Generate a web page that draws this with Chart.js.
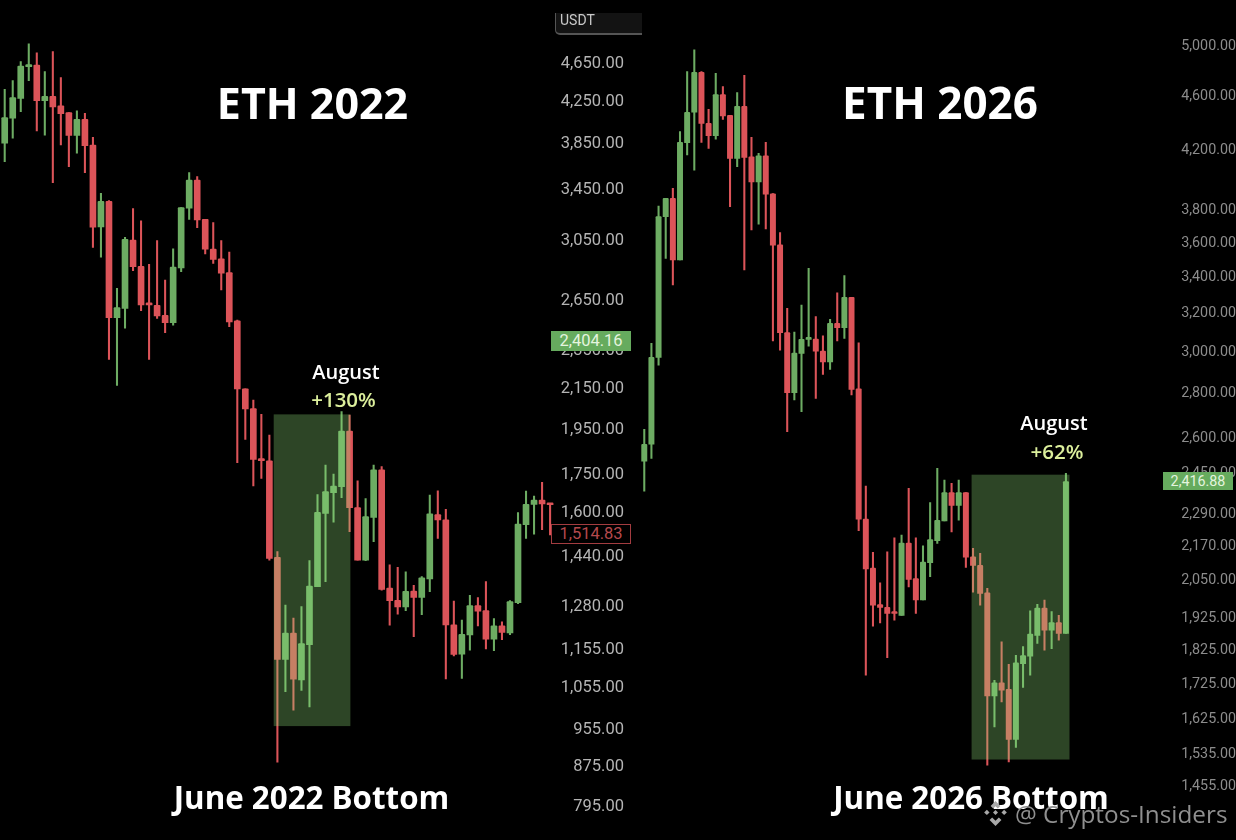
<!DOCTYPE html>
<html>
<head>
<meta charset="utf-8">
<title>ETH 2022 vs ETH 2026</title>
<script src="https://cdn.jsdelivr.net/npm/chart.js@4"></script>
<style>
  html, body { margin: 0; background: #000; }
  #stage { position: relative; width: 1236px; height: 840px; overflow: hidden; background: #000; font-family: 'Open Sans', sans-serif; }
  canvas { position: absolute; top: 0; }
  .note { position: absolute; transform: translate(-50%, -50%); white-space: nowrap; color: #fff; }
  .title { font-size: 43px; font-weight: 700; }
  .bottom { font-size: 31.3px; font-weight: 700; }
  .month { font-size: 20px; font-weight: 600; }
  .gain { font-size: 20.5px; font-weight: 600; color: #dcef9c; }
  .tag { position: absolute; box-sizing: border-box; text-align: center; font-family: Roboto, sans-serif; white-space: nowrap; }
  #usdt { position: absolute; left: 555px; top: 13px; width: 87px; height: 22px; box-sizing: border-box; background: #131313; border-left: 1px solid #555; border-bottom: 2px solid #555; border-bottom-left-radius: 5px; color: #c9c9c9; font: 14px Roboto, sans-serif; line-height: 14px; padding-left: 4px; }
  #mark { position: absolute; left: 1015px; top: 797px; color: #8f8f8f; font-size: 24.3px; white-space: nowrap; }
  #logo { position: absolute; left: 982px; top: 800px; }
</style>
</head>
<body>
<div id="stage">
  <canvas id="chart-2022" width="624" height="840" style="left:0"></canvas>
  <canvas id="chart-2026" width="596" height="840" style="left:640px"></canvas>

  <div id="usdt">USDT</div>
  <div class="tag" style="left:551px;top:331px;width:80px;height:20px;line-height:20px;font-size:16.5px;background:#66ab5e;color:#e4f4de">2,404.16</div>
  <div class="tag" style="left:551px;top:524px;width:80px;height:20px;line-height:18px;font-size:16.5px;background:#000;border:1px solid #a33c40;color:#b5494d">1,514.83</div>
  <div class="tag" style="left:1163px;top:472px;width:70px;height:18px;line-height:18px;font-size:14.3px;background:#66ab5e;color:#e4f4de">2,416.88</div>

  <div class="note title" style="left:312.5px;top:101.5px">ETH 2022</div>
  <div class="note title" style="left:940px;top:101.5px;font-size:44px">ETH 2026</div>
  <div class="note month" style="left:346px;top:371px">August</div>
  <div class="note gain" style="left:343.5px;top:399px">+130%</div>
  <div class="note month" style="left:1054px;top:422px">August</div>
  <div class="note gain" style="left:1057px;top:451px">+62%</div>
  <div class="note bottom" style="left:311.5px;top:797px">June 2022 Bottom</div>
  <div class="note bottom" style="left:971px;top:797px">June 2026 Bottom</div>

  <svg id="logo" width="27" height="27" viewBox="0 0 25 25" fill="#a8a8a8">
    <polygon points="12.5,1 17,5.5 14.6,7.9 12.5,5.8 10.4,7.9 8,5.5"/>
    <polygon points="4.5,9 7,11.5 4.5,14 2,11.5"/>
    <polygon points="20.5,9 23,11.5 20.5,14 18,11.5"/>
    <polygon points="12.5,9.2 14.8,11.5 12.5,13.8 10.2,11.5"/>
    <polygon points="12.5,24 7,18.5 9.4,16.1 12.5,19.2 15.6,16.1 18,18.5"/>
  </svg>
  <div id="mark">@ Cryptos-Insiders</div>
</div>

<script>
// ETH 2022 candles (USDT)
const open2022 = [3833, 4068, 4265, 4599, 4617, 4242, 4285, 4189, 4122, 3904, 4058, 3817, 3141, 3339, 2532, 2589, 3045, 2861, 2621, 2608, 2546, 2502, 2850, 3284, 3512, 3199, 2981, 2913, 2819, 2513, 2138, 2040, 1811, 1802, 1432, 1124, 1196, 1070, 1164, 1336, 1590, 1670, 1694, 1934, 1612, 1423, 1575, 1763, 1331, 1293, 1273, 1322, 1302, 1361, 1586, 1566, 1220, 1138, 1191, 1277, 1262, 1179, 1217, 1197, 1286, 1548, 1624, 1641, 1626];
const high2022 = [4358, 4448, 4653, 4854, 4753, 4545, 4766, 4480, 4122, 4139, 4116, 3888, 3403, 3344, 2715, 3065, 3281, 3187, 2874, 3041, 2769, 2983, 3289, 3574, 3540, 3199, 3174, 3041, 2960, 2517, 2138, 2082, 2012, 1915, 1452, 1279, 1240, 1274, 1421, 1663, 1784, 1746, 2025, 2009, 1718, 1647, 1784, 1777, 1407, 1399, 1384, 1340, 1368, 1661, 1678, 1605, 1291, 1234, 1309, 1302, 1352, 1238, 1229, 1292, 1593, 1677, 1657, 1712, 1626];
const low2022 = [3669, 3879, 4133, 4448, 3947, 3907, 3490, 3817, 3626, 3743, 3574, 2992, 2923, 2293, 2156, 2469, 2832, 2574, 2293, 2527, 2444, 2488, 2825, 3199, 3136, 2946, 2881, 2704, 2479, 1794, 1896, 1697, 1728, 1423, 880, 1041, 996, 1044, 1004, 1336, 1352, 1557, 1651, 1522, 1423, 1421, 1487, 1325, 1219, 1251, 1262, 1186, 1250, 1320, 1498, 1073, 1133, 1074, 1149, 1217, 1152, 1147, 1178, 1192, 1283, 1498, 1513, 1530, 1511];
const close2022 = [4074, 4272, 4606, 4617, 4242, 4285, 4179, 4113, 3904, 4058, 3811, 3139, 3339, 2532, 2593, 3050, 2859, 2610, 2610, 2542, 2502, 2856, 3289, 3512, 3194, 2979, 2908, 2814, 2506, 2138, 2038, 1808, 1802, 1429, 1124, 1196, 1072, 1167, 1338, 1594, 1675, 1697, 1934, 1612, 1423, 1578, 1763, 1327, 1292, 1273, 1321, 1302, 1364, 1588, 1566, 1220, 1137, 1193, 1277, 1260, 1179, 1217, 1198, 1289, 1550, 1625, 1641, 1626, 1623];
const ticks2022 = [4650, 4250, 3850, 3450, 3050, 2650, 2350, 2150, 1950, 1750, 1600, 1440, 1280, 1155, 1055, 955, 875, 795];

// ETH 2026 candles
const open2026 = [2494, 2565, 2965, 3749, 3865, 3488, 4242, 4462, 4769, 4380, 4291, 4595, 4440, 4131, 4507, 4143, 3973, 4150, 3895, 3577, 3090, 2795, 2984, 3055, 3057, 2996, 2943, 3138, 3115, 3277, 2813, 2264, 2086, 1963, 1954, 1938, 1928, 2175, 2050, 1978, 2105, 2184, 2257, 2366, 2316, 2366, 2126, 2096, 2002, 1686, 1723, 1704, 1568, 1779, 1801, 1865, 1952, 1881, 1905, 1871];
const high2026 = [2630, 3035, 3816, 3865, 3930, 4320, 4775, 4951, 4775, 4484, 4761, 4657, 4440, 4611, 4745, 4279, 4166, 4244, 3897, 3651, 3217, 3093, 3235, 3440, 3173, 3073, 3159, 3302, 3398, 3277, 3038, 2392, 2142, 2036, 2144, 2194, 2204, 2383, 2194, 2165, 2327, 2464, 2416, 2403, 2416, 2366, 2156, 2138, 2017, 1730, 1845, 1777, 1804, 1830, 1943, 1964, 1978, 1940, 1928, 2443];
const low2026 = [2372, 2505, 2927, 3497, 3345, 3488, 4155, 4052, 4244, 4201, 4267, 4410, 3812, 4075, 3430, 3667, 3703, 3673, 3047, 3001, 2619, 2762, 2708, 3021, 2769, 2882, 2906, 3047, 3060, 2785, 2221, 1745, 1894, 1904, 1797, 1913, 1928, 2022, 1934, 1978, 2057, 2174, 2257, 2216, 2260, 2089, 2004, 1961, 1502, 1601, 1669, 1510, 1547, 1710, 1745, 1840, 1819, 1824, 1850, 1871];
const close2026 = [2565, 2965, 3749, 3865, 3488, 4244, 4462, 4769, 4380, 4291, 4595, 4435, 4131, 4507, 4138, 3973, 4150, 3893, 3575, 3090, 2795, 2986, 3055, 3063, 2996, 2943, 3138, 3115, 3277, 2811, 2264, 2083, 1961, 1954, 1934, 1934, 2175, 2047, 1978, 2107, 2188, 2259, 2366, 2316, 2366, 2125, 2096, 2000, 1686, 1723, 1702, 1568, 1781, 1803, 1869, 1952, 1881, 1905, 1871, 2410];
const ticks2026 = [5000, 4600, 4200, 3800, 3600, 3400, 3200, 3000, 2800, 2600, 2450, 2290, 2170, 2050, 1925, 1825, 1725, 1625, 1535, 1455];

// Shaded rally windows: candle index from/to, price from/to
const window2022 = [33.54, 43.1, 959, 2012];
const window2026 = [45.8, 59.5, 1516, 2438];

const GREEN = '#6dac63';
const RED = '#dc5459';

// Draws the green box over the candles, so they get tinted like in the picture
const rallyBox = {
  id: 'rallyBox',
  afterDatasetsDraw(chart, args, opts) {
    const { x, y } = chart.scales;
    const [from, to, low, high] = opts.range;
    const left = x.getPixelForValue(from);
    const right = x.getPixelForValue(to);
    const top = y.getPixelForValue(high);
    const bottom = y.getPixelForValue(low);
    chart.ctx.save();
    chart.ctx.fillStyle = 'rgba(150, 230, 125, 0.3)';
    chart.ctx.fillRect(left, top, right - left, bottom - top);
    chart.ctx.restore();
  }
};

function formatPrice(value) {
  return value.toLocaleString('en-US', { minimumFractionDigits: 2, maximumFractionDigits: 2 });
}

function drawCandles(canvasId, cfg) {
  const colors = cfg.open.map((o, i) => (cfg.close[i] >= o ? GREEN : RED));
  return new Chart(document.getElementById(canvasId), {
    type: 'bar',
    data: {
      labels: cfg.open.map((_, i) => i),
      datasets: [
        {
          label: 'Wick',
          data: cfg.low.map((l, i) => [l, cfg.high[i]]),
          backgroundColor: colors,
          barThickness: 1.4,
          grouped: false
        },
        {
          label: 'Body',
          data: cfg.open.map((o, i) => [o, cfg.close[i]]),
          backgroundColor: colors,
          barThickness: cfg.bodyWidth,
          minBarLength: 2,
          borderRadius: 1,
          grouped: false
        }
      ]
    },
    options: {
      responsive: false,
      animation: false,
      layout: { padding: { left: cfg.padLeft } },
      plugins: {
        legend: { display: false },
        tooltip: { enabled: false },
        rallyBox: { range: cfg.box }
      },
      scales: {
        x: { display: false },
        y: {
          type: 'logarithmic',
          position: 'right',
          min: cfg.min,
          max: cfg.max,
          bounds: 'data',
          grid: { display: false, drawTicks: false },
          border: { display: false },
          afterBuildTicks: (scale) => { scale.ticks = cfg.ticks.map((value) => ({ value })); },
          afterFit: (scale) => {
            scale.width = cfg.axisWidth;
            scale.paddingTop = 0;
            scale.paddingBottom = 0;
          },
          ticks: {
            autoSkip: false,
            crossAlign: 'far',
            padding: cfg.tickPadding,
            labelOffset: 2,
            color: cfg.tickColor,
            font: { family: 'Roboto', size: cfg.tickSize },
            callback: (value) => formatPrice(value)
          }
        }
      }
    },
    plugins: [rallyBox]
  });
}

drawCandles('chart-2022', {
  open: open2022, high: high2022, low: low2022, close: close2022,
  ticks: ticks2022, box: window2022,
  min: 731.5, max: 5388,
  bodyWidth: 6, padLeft: 0.7, axisWidth: 69.9,
  tickPadding: 6, tickColor: '#b4b4b4', tickSize: 16.5
});

drawCandles('chart-2026', {
  open: open2026, high: high2026, low: low2026, close: close2026,
  ticks: ticks2026, box: window2026,
  min: 1325.6, max: 5381,
  bodyWidth: 5.3, padLeft: 0.7, axisWidth: 166.5,
  tickPadding: 97, tickColor: '#8c8c8c', tickSize: 14.3
});
</script>
</body>
</html>
